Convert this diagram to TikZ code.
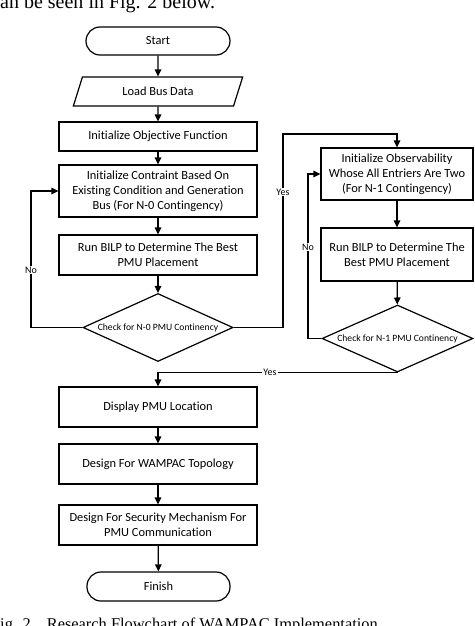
\documentclass[tikz,border=0pt]{standalone}
\usepackage{fontspec}
\setmainfont{Carlito}[Ligatures=NoCommon]
\newfontfamily\pagefont{Liberation Serif}
\usetikzlibrary{shapes.geometric,arrows.meta}

\begin{document}
\begin{tikzpicture}[x=1pt,y=1pt,
	box/.style={shape=rectangle,draw=black,line width=1.2pt,minimum width=198pt,inner sep=2pt,align=center,font=\fontsize{12.4}{15}\selectfont},
	rbox/.style={box,minimum width=152pt},
	term/.style={shape=rectangle,draw=black,line width=1.2pt,rounded corners=14pt,minimum width=144pt,minimum height=28pt,font=\fontsize{12.4}{15}\selectfont},
	io/.style={shape=trapezium,trapezium left angle=73,trapezium right angle=107,trapezium stretches=true,draw=black,line width=1.2pt,minimum width=170pt,minimum height=29pt,font=\fontsize{12.4}{15}\selectfont},
	dec/.style={shape=diamond,draw=black,line width=1.2pt,inner sep=0pt,shape aspect=2.2,minimum width=150pt,minimum height=68pt,font=\fontsize{9.6}{11}\selectfont},
	flow/.style={line width=1.2pt,-{Triangle[length=7pt,width=6.5pt]}},
	lbl/.style={fill=white,inner sep=1pt,font=\fontsize{10}{12}\selectfont}]
	\useasboundingbox (0,0) rectangle (474,-626);

	% page text around the figure
	\node[anchor=base west,inner sep=0pt,font=\pagefont\fontsize{20}{24}\selectfont] (txt) at (0,-8.5) {an be seen in Fig. 2 below.};
	\node[anchor=base west,inner sep=0pt,font=\pagefont\fontsize{16.4}{20}\selectfont] (cap) at (0,-629) {ig. 2.\hspace{12pt}Research Flowchart of WAMPAC Implementation};

	% left column
	\node[term] (start) at (158,-41) {Start};
	\node[io] (load) at (158,-91.5) {Load Bus Data};
	\node[box,minimum height=29pt] (objfn) at (158,-136.5) {Initialize Objective Function};
	\node[box,minimum height=52pt] (contr) at (158,-191) {Initialize Contraint Based On\\Existing Condition and Generation\\Bus (For N-0 Contingency)};
	\node[box,minimum height=40pt] (bilp0) at (158,-255) {Run BILP to Determine The Best\\PMU Placement};
	\node[dec] (chk0) at (158,-327.5) {Check for N-0 PMU Continency};

	% right column
	\node[rbox,minimum height=52pt] (obs) at (397,-174) {Initialize Observability\\Whose All Entriers Are Two\\(For N-1 Contingency)};
	\node[rbox,minimum height=53pt] (bilp1) at (397,-254.5) {Run BILP to Determine The\\Best PMU Placement};
	\node[dec,minimum width=151pt,minimum height=67pt] (chk1) at (397.5,-338.5) {Check for N-1 PMU Continency};

	% lower part
	\node[box,minimum height=40pt] (disp) at (158,-407) {Display PMU Location};
	\node[box,minimum height=40pt] (topo) at (158,-464) {Design For WAMPAC Topology};
	\node[box,minimum height=40pt] (secu) at (158,-525) {Design For Security Mechanism For\\PMU Communication};
	\node[term,minimum width=143pt,minimum height=29pt] (finish) at (158.5,-586.5) {Finish};

	\coordinate (no0) at (31,-327.5);
	\coordinate (yes0) at (283,-134);
	\coordinate (no1) at (308,-338.5);

	\draw[flow] (start) -- (load);
	\draw[flow] (load) -- (objfn);
	\draw[flow] (objfn) -- (contr);
	\draw[flow] (contr) -- (bilp0);
	\draw[flow] (bilp0) -- (chk0);
	\draw[flow] (chk0.west) -- (no0) |- (contr.west);
	\draw[flow] (chk0.east) -| (yes0) -| (obs.north);
	\draw[flow] (obs) -- (bilp1);
	\draw[flow] (bilp1) -- (chk1);
	\draw[flow] (chk1.west) -- (no1) |- (obs.west);
	\draw[flow] (chk1.south) -| (disp.north);
	\draw[flow] (disp) -- (topo);
	\draw[flow] (topo) -- (secu);
	\draw[flow] (secu) -- (finish);

	\node[lbl] (lno0) at (31,-270) {No};
	\node[lbl] (lyes0) at (283,-192) {Yes};
	\node[lbl] (lno1) at (308,-247) {No};
	\node[lbl] (lyes1) at (270,-372) {Yes};
\end{tikzpicture}
\end{document}
